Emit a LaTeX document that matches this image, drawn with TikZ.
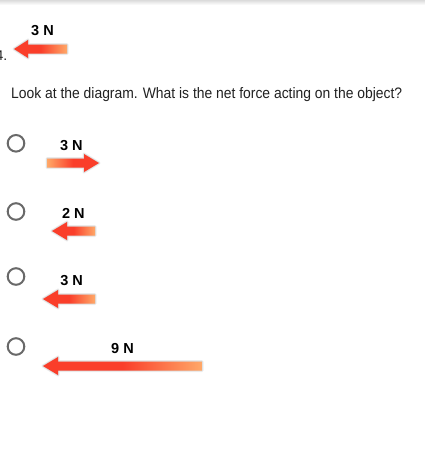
\documentclass[tikz,border=0pt]{standalone}
\usepackage{fontspec}
\setmainfont{Liberation Sans}
\usepackage{graphicx}
\definecolor{fred}{RGB}{250,62,42}
\definecolor{fpeach}{RGB}{255,168,104}
\definecolor{qtext}{RGB}{33,33,33}
\definecolor{radiogray}{RGB}{105,105,105}
\pgfdeclarehorizontalshading{forceshade}{100bp}{color(0bp)=(fred); color(25bp)=(fred); color(50bp)=(fred); color(75bp)=(fpeach); color(100bp)=(fpeach)}
\tikzset{
  radio/.style={draw=radiogray, line width=2pt},
  flabel/.style={font=\fontsize{14.5pt}{16pt}\selectfont\bfseries, text=black, inner sep=0pt},
  arrowhalo/.style={draw=black, line join=round, opacity=0.07, line width=3pt},
  arrowhalob/.style={draw=black, line join=round, opacity=0.08, line width=1.4pt},
}
% #1 tip x, #2 tail x, #3 y, #4 signed head length, #5 shading angle
\newcommand{\forcearrow}[5]{%
  \path[arrowhalo] (#1,#3) -- ({#1+#4},{#3-9}) -- ({#1+#4},{#3-4.5}) -- (#2,{#3-4.5}) -- (#2,{#3+4.5}) -- ({#1+#4},{#3+4.5}) -- ({#1+#4},{#3+9}) -- cycle;
  \path[arrowhalob] (#1,#3) -- ({#1+#4},{#3-9}) -- ({#1+#4},{#3-4.5}) -- (#2,{#3-4.5}) -- (#2,{#3+4.5}) -- ({#1+#4},{#3+4.5}) -- ({#1+#4},{#3+9}) -- cycle;
  \path[shading=forceshade, shading angle=#5] (#1,#3) -- ({#1+#4},{#3-9}) -- ({#1+#4},{#3-4.5}) -- (#2,{#3-4.5}) -- (#2,{#3+4.5}) -- ({#1+#4},{#3+4.5}) -- ({#1+#4},{#3+9}) -- cycle;
}
\begin{document}
\begin{tikzpicture}[x=1pt,y=-1pt]
\useasboundingbox[fill=white] (0,0) rectangle (425,458);
% top shadow strip
\shade[top color=black!14, bottom color=white] (0,0) rectangle (425,5);

% question 4 header
\node[anchor=base east, inner sep=0pt, font=\fontsize{14pt}{16pt}\selectfont, text=qtext] (qnum) at (7.5,60) {4.};
\node[flabel] (toplabel) at (42.5,30.5) {3 N};
\forcearrow{14}{67}{49}{14}{0}

\node[anchor=base west, inner sep=0pt, text=qtext] (question) at (11,98)
  {\resizebox{391pt}{11pt}{\fontsize{13pt}{15pt}\selectfont Look at the diagram. What is the net force acting on the object?}};

% option 1
\draw[radio] (16,143.3) circle (8.3);
\node[flabel] (l1) at (71.3,146) {3 N};
\forcearrow{99}{47}{163}{-15}{180}

% option 2
\draw[radio] (16,211.5) circle (8.3);
\node[flabel] (l2) at (73.3,213) {2 N};
\forcearrow{52}{95}{231}{15}{0}

% option 3
\draw[radio] (16,276.5) circle (8.3);
\node[flabel] (l3) at (71.7,281) {3 N};
\forcearrow{43}{95}{299}{15}{0}

% option 4
\draw[radio] (16,346.5) circle (8.3);
\node[flabel] (l4) at (122.5,349) {9 N};
\forcearrow{43}{202}{366}{15}{0}
\end{tikzpicture}
\end{document}
